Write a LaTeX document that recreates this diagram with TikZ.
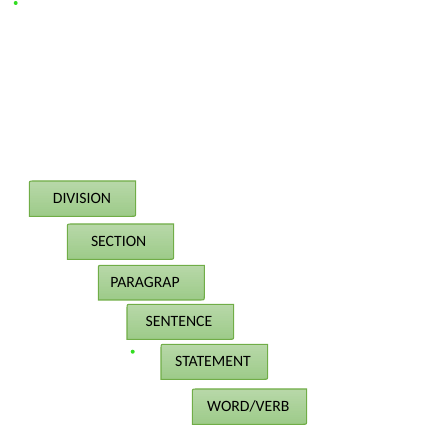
\documentclass[tikz,border=0pt]{standalone}
\usepackage{fontspec}
\setmainfont{Carlito}
\definecolor{gtop}{HTML}{B8D8A9}
\definecolor{gbot}{HTML}{9ECB8A}
\definecolor{gline}{HTML}{70AD47}
\definecolor{gdot}{HTML}{33DD22}
\tikzset{
  boxline/.style={draw=gline, line width=0.8pt},
  boxtext/.style={inner sep=0pt, font=\fontsize{11.8pt}{14pt}\selectfont, text=black},
  dotmark/.style={fill=gdot, draw=none}
}
% #1 x-left, #2 y-top, #3 x-right, #4 y-bottom (y upward)
\newcommand\gshape[4]{(#1,#4) -- (#1,#2-4) .. controls (#1,#2) .. (#1+4,#2) -- (#3,#2) -- (#3,#4+4) .. controls (#3,#4) .. (#3-4,#4) -- cycle}
\newcommand\gbox[4]{%
  \begin{scope}
    \clip \gshape{#1}{#2}{#3}{#4};
    \foreach \k in {0,...,19}{%
      \pgfmathsetmacro\pct{100-\k*100/19}%
      \fill[gtop!\pct!gbot] (#1-1,{#2-(#2-#4)*\k/20+0.5}) rectangle (#3+1,{#2-(#2-#4)*(\k+1)/20-0.5});
    }
  \end{scope}
  \draw[boxline] \gshape{#1}{#2}{#3}{#4};
}
\begin{document}
\begin{tikzpicture}[x=0.75pt,y=0.75pt]
\useasboundingbox (0,0) rectangle (427,432);
\fill[dotmark] (15.7,429) circle (2);
\fill[dotmark] (132.7,80.3) circle (2);
\gbox{29.3}{251}{135.7}{215.7}
\gbox{67.3}{208}{173.7}{172.7}
\gbox{98.3}{166.7}{204.3}{132}
\gbox{127}{127.7}{233.7}{92.7}
\gbox{161}{87.7}{267.7}{52.7}
\gbox{192.3}{43}{306.7}{7.7}
\node[boxtext] (division) at (82,233.3) {DIVISION};
\node[boxtext] (section) at (118.7,190.3) {SECTION};
\node[boxtext] (paragrap) at (145,149.3) {PARAGRAP};
\node[boxtext] (sentence) at (179,110.2) {SENTENCE};
\node[boxtext] (statement) at (213,70.2) {STATEMENT};
\node[boxtext] (wordverb) at (248.3,25.3) {WORD/VERB};
\end{tikzpicture}
\end{document}
